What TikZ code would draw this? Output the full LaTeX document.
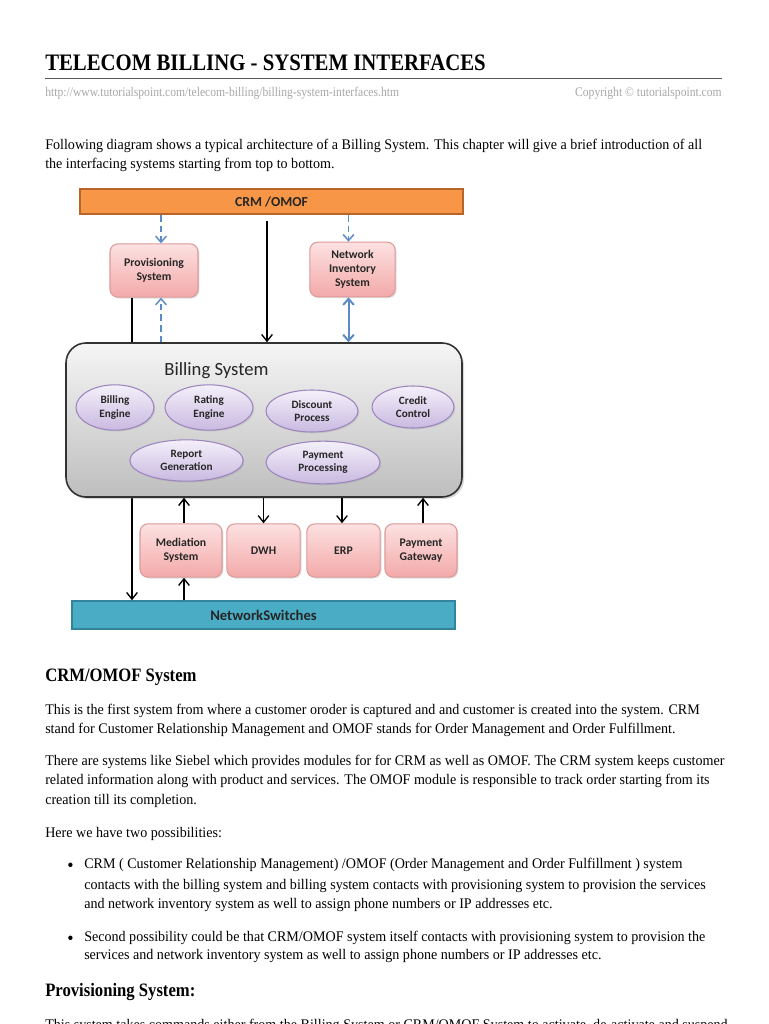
\documentclass[tikz,border=0pt]{standalone}
\usepackage{fontspec}
\setmainfont{Liberation Serif}[FakeStretch=0.88]
\newfontfamily\bodyfont{Liberation Serif}[FakeStretch=0.96]
\newfontfamily\diafont{Carlito}
\usetikzlibrary{arrows.meta,calc,shapes.geometric,shadows}

\definecolor{crmfill}{HTML}{F79646}
\definecolor{crmline}{HTML}{B7652A}
\definecolor{swfill}{HTML}{4BACC6}
\definecolor{swline}{HTML}{31849B}
\definecolor{pinktop}{HTML}{FDE1E1}
\definecolor{pinkbot}{HTML}{F3A9A9}
\definecolor{pinkline}{HTML}{DC9B9B}
\definecolor{lavtop}{HTML}{F4F0FA}
\definecolor{lavbot}{HTML}{C9B9E0}
\definecolor{lavline}{HTML}{9C86BD}
\definecolor{graytop}{HTML}{F5F5F5}
\definecolor{graybot}{HTML}{BEBEBE}
\definecolor{linkblue}{HTML}{5B8BC6}
\definecolor{diatext}{HTML}{262626}
\definecolor{urlgray}{HTML}{A8A8A8}

\tikzset{
  txt/.style={anchor=base west,inner sep=0pt,font=\bodyfont\fontsize{11}{13}\selectfont},
  dot/.style={anchor=base west,inner sep=0pt,font=\bodyfont\fontsize{14}{13}\selectfont},
  head/.style={anchor=base west,inner sep=0pt,font=\fontsize{14.2}{16}\selectfont\bfseries},
  bar/.style={draw,line width=1.2pt,inner sep=0pt,text=diatext,
    font=\diafont\bfseries\fontsize{10.3}{12}\selectfont},
  subsys/.style={draw=pinkline,line width=0.8pt,rounded corners=6pt,
    top color=pinktop,bottom color=pinkbot,align=center,inner sep=0pt,
    text=diatext,font=\diafont\bfseries\fontsize{8.8}{10.5}\selectfont,
    drop shadow={opacity=0.25,shadow xshift=1pt,shadow yshift=-1pt}},
  module/.style={ellipse,draw=lavline,line width=0.8pt,top color=lavtop,
    bottom color=lavbot,align=center,inner sep=0pt,text=diatext,
    font=\diafont\bfseries\fontsize{8.4}{10}\selectfont,
    drop shadow={opacity=0.2,shadow xshift=1pt,shadow yshift=-1pt}},
  blk/.style={line width=1pt,-{Straight Barb[length=5pt,width=8pt]}},
  bluedash/.style={linkblue,line width=1.1pt,dash pattern=on 5pt off 3pt,
    -{Straight Barb[length=4.5pt,width=8pt]}},
  bluedbl/.style={linkblue,line width=1.5pt,
    {Straight Barb[length=4.5pt,width=8pt]}-{Straight Barb[length=4.5pt,width=8pt]}}
}

\begin{document}
\begin{tikzpicture}[x=0.75pt,y=-0.75pt]
\fill[white] (0,0) rectangle (768,1024);
\useasboundingbox (0,0) rectangle (768,1024);
\clip (0,0) rectangle (768,1024);

% page header
\node[anchor=base west,inner sep=0pt,font=\fontsize{17.7}{20}\selectfont\bfseries]
  (title) at (45,71) {TELECOM BILLING - SYSTEM INTERFACES};
\draw[line width=0.6pt,gray!70!black] (45,78) -- (722,78);
\node[anchor=base west,inner sep=0pt,text=urlgray,font=\fontsize{9.9}{11}\selectfont]
  (url) at (45,97) {http://www.tutorialspoint.com/telecom-billing/billing-system-interfaces.htm};
\node[anchor=base east,inner sep=0pt,text=urlgray,font=\fontsize{9.9}{11}\selectfont]
  (copy) at (722,97) {Copyright © tutorialspoint.com};

\node[txt] (intro1) at (45,149) {Following diagram shows a typical architecture of a Billing System. This chapter will give a brief introduction of all};
\node[txt] (intro2) at (45,168) {the interfacing systems starting from top to bottom.};

% diagram
\node[bar,fill=crmfill,draw=crmline,minimum width=287pt,minimum height=19pt]
  (crm) at (271.5,201.5) {CRM /OMOF};
\node[subsys,minimum width=66pt,minimum height=40pt] (prov) at (154,270.5) {Provisioning\\System};
\node[subsys,minimum width=64pt,minimum height=41pt] (ni) at (352.5,269.5) {Network\\Inventory\\System};
\node[bar,fill=swfill,draw=swline,minimum width=287pt,minimum height=21pt,
  font=\diafont\bfseries\fontsize{11}{12}\selectfont]
  (sw) at (263.5,615) {NetworkSwitches};

\coordinate (pvl) at ($(prov.south)+(-22,0)$);
\draw[blk] (pvl) -- (pvl |- sw.north);

\node[draw=black!80,line width=1.2pt,rounded corners=15pt,top color=graytop,
  bottom color=graybot,minimum width=297pt,minimum height=115.5pt,
  drop shadow={opacity=0.3,shadow xshift=1.5pt,shadow yshift=-1.5pt}]
  (bill) at (264,420) {};
\node[inner sep=0pt,text=diatext,font=\diafont\fontsize{14}{16}\selectfont]
  (billt) at (216.5,371) {Billing System};

\node[module,minimum width=58.5pt,minimum height=34pt] (be) at (115,407.5) {Billing\\Engine};
\node[module,minimum width=66pt,minimum height=34pt] (re) at (209,407.5) {Rating\\Engine};
\node[module,minimum width=69pt,minimum height=31.5pt] (dp) at (312,411) {Discount\\Process};
\node[module,minimum width=61.5pt,minimum height=31.5pt] (cc) at (413,407) {Credit\\Control};
\node[module,minimum width=85pt,minimum height=31pt] (rg) at (186.5,460.5) {Report\\Generation};
\node[module,minimum width=85.5pt,minimum height=32pt] (pp) at (323,462.5) {Payment\\Processing};

\node[subsys,minimum width=61.5pt,minimum height=40pt] (med) at (181,550.5) {Mediation\\System};
\node[subsys,minimum width=55pt,minimum height=40pt] (dwh) at (263.5,550.5) {DWH};
\node[subsys,minimum width=55pt,minimum height=40pt] (erp) at (343.5,550.5) {ERP};
\node[subsys,minimum width=54pt,minimum height=40pt] (pg) at (421,550.5) {Payment\\Gateway};

% links
\coordinate (pvin) at ($(prov.north)+(7,0)$);
\coordinate (pvout) at ($(prov.south)+(7,0)$);
\coordinate (niin) at ($(ni.north)+(-4,0)$);
\coordinate (niout) at ($(ni.south)+(-4,0)$);
\coordinate (crmout) at ($(crm.south)+(-4.5,6)$);
\coordinate (mdt) at ($(med.north)+(3,0)$);
\coordinate (mdb) at ($(med.south)+(3,0)$);
\coordinate (ert) at ($(erp.north)+(-1.5,0)$);
\coordinate (pgt) at ($(pg.north)+(2,0)$);
\draw[bluedash] (crm.south -| pvin) -- (pvin);
\draw[bluedash] (crm.south -| niin) -- (niin);
\draw[bluedash] (bill.north -| pvout) -- (pvout);
\draw[bluedbl] (niout) -- (bill.north -| niout);
\draw[blk] (crmout) -- (bill.north -| crmout);
\draw[blk] (mdt) -- (mdt |- bill.south);
\draw[blk] (bill.south -| dwh.north) -- (dwh.north);
\draw[blk] (bill.south -| ert) -- (ert);
\draw[blk] (pgt) -- (pgt |- bill.south);
\draw[blk] (mdb |- sw.north) -- (mdb);

% section text
\node[head] (h1) at (45,681) {CRM/OMOF System};
\node[txt] (a1) at (45,714) {This is the first system from where a customer oroder is captured and and customer is created into the system. CRM};
\node[txt] (a2) at (45,733) {stand for Customer Relationship Management and OMOF stands for Order Management and Order Fulfillment.};
\node[txt] (b1) at (45,765) {There are systems like Siebel which provides modules for for CRM as well as OMOF. The CRM system keeps customer};
\node[txt] (b2) at (45,784) {related information along with product and services. The OMOF module is responsible to track order starting from its};
\node[txt] (b3) at (45,804) {creation till its completion.};
\node[txt] (c1) at (45,837) {Here we have two possibilities:};
\node[dot] (d0) at (67,871) {•};
\node[txt] (d1) at (84,868) {CRM ( Customer Relationship Management) /OMOF (Order Management and Order Fulfillment ) system};
\node[txt] (d2) at (84,889) {contacts with the billing system and billing system contacts with provisioning system to provision the services};
\node[txt] (d3) at (84,908) {and network inventory system as well to assign phone numbers or IP addresses etc.};
\node[dot] (e0) at (67,944) {•};
\node[txt] (e1) at (84,941) {Second possibility could be that CRM/OMOF system itself contacts with provisioning system to provision the};
\node[txt] (e2) at (84,959) {services and network inventory system as well to assign phone numbers or IP addresses etc.};
\node[head] (h2) at (45,996) {Provisioning System:};
\node[txt] (f1) at (45,1029) {This system takes commands either from the Billing System or CRM/OMOF System to activate, de-activate and suspend};
\end{tikzpicture}
\end{document}
